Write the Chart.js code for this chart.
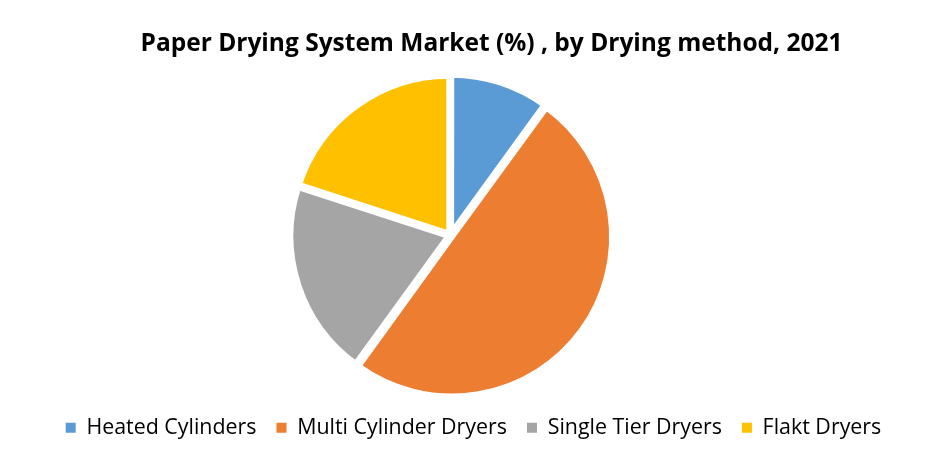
<!DOCTYPE html>
<html>
<head>
<meta charset="utf-8">
<script src="https://cdn.jsdelivr.net/npm/chart.js@4"></script>
<style>
  html, body { margin: 0; padding: 0; background: #fff; }
  #wrap { width: 933px; height: 469px; }
</style>
</head>
<body>
<div id="wrap"><canvas id="chart"></canvas></div>
<script>
const labels = ['Heated Cylinders', 'Multi Cylinder Dryers', 'Single Tier Dryers', 'Flakt Dryers'];
const shares = [10, 50, 20, 20];
const colors = ['#5B9BD5', '#ED7D31', '#A5A5A5', '#FFC000'];

// the title and legend sit a little right of the pie in the original
const shiftBoxes = {
  id: 'shiftBoxes',
  afterLayout(chart) {
    const t = chart.titleBlock, l = chart.legend;
    if (t) { t.left += 41; t.right += 41; }
    if (l) { l.left += 23; l.right += 23; }
  }
};

Chart.defaults.color = '#000';

new Chart(document.getElementById('chart'), {
  type: 'pie',
  data: {
    labels,
    datasets: [{
      data: shares,
      backgroundColor: colors,
      borderColor: '#fff',
      borderWidth: 6,
      offset: 8,
      radius: 158
    }]
  },
  options: {
    responsive: true,
    maintainAspectRatio: false,
    animation: false,
    layout: { padding: { left: 0, right: 32, top: 0, bottom: 20.5 } },
    plugins: {
      title: {
        display: true,
        text: 'Paper Drying System Market (%) , by Drying method, 2021',
        font: { family: 'Open Sans', size: 24.5, weight: 'bold', lineHeight: 1.2 },
        padding: { top: 29.3, bottom: 15 }
      },
      legend: {
        position: 'bottom',
        labels: {
          boxWidth: 10,
          boxHeight: 10,
          padding: 20,
          font: { family: 'Open Sans', size: 21.4, lineHeight: 1.2 },
          // no white border round the legend squares
          generateLabels: chart =>
            Chart.overrides.pie.plugins.legend.labels.generateLabels(chart)
              .map(item => ({ ...item, lineWidth: 0 }))
        }
      },
      tooltip: { enabled: false }
    }
  },
  plugins: [shiftBoxes]
});
</script>
</body>
</html>
